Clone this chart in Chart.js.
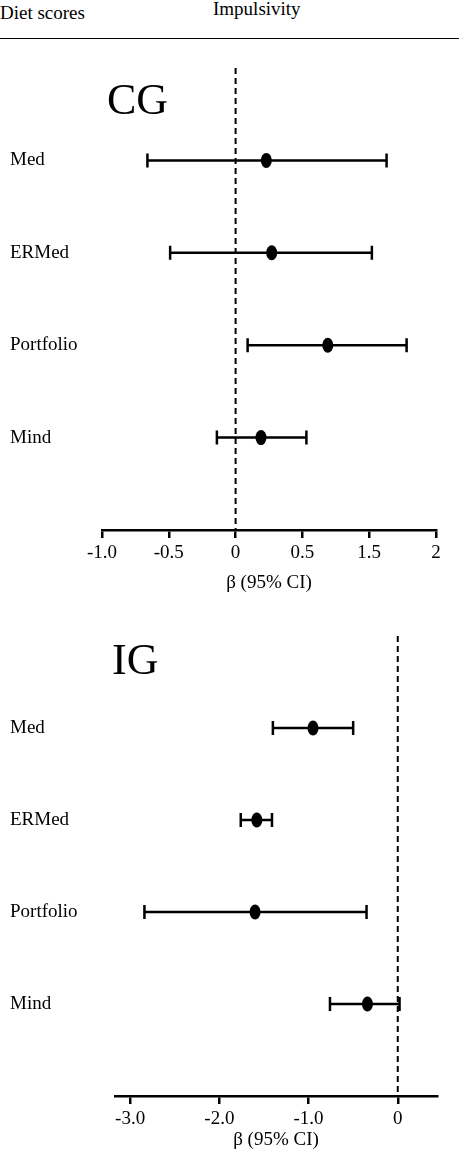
<!DOCTYPE html>
<html>
<head>
<meta charset="utf-8">
<script src="https://cdn.jsdelivr.net/npm/chart.js@4/dist/chart.umd.min.js"></script>
<style>
  body { margin: 0; width: 459px; height: 1166px; background: #fff; position: relative; overflow: hidden; font-family: "Liberation Serif", serif; }
  .txt { position: absolute; color: #000; white-space: nowrap; }
  .panel { position: absolute; left: 0; width: 459px; }
</style>
</head>
<body>
<div class="txt" style="left:0;top:2px;font-size:19px;">Diet scores</div>
<div class="txt" style="left:213px;top:-2px;font-size:19px;">Impulsivity</div>
<div style="position:absolute;left:0;top:38px;width:459px;height:1px;background:#000;"></div>

<div class="panel" style="top:40px;height:570px;"><canvas id="cgChart"></canvas></div>
<div class="panel" style="top:620px;height:546px;"><canvas id="igChart"></canvas></div>
<div class="txt" style="left:107px;top:74px;font-size:44px;">CG</div>
<div class="txt" style="left:112px;top:634px;font-size:44px;">IG</div>

<script>
//rows
const dietScores = ['Med', 'ERMed', 'Portfolio', 'Mind'];

//CG values
const cgBeta = [0.23, 0.27, 0.69, 0.19];
const cgLow = [-0.66, -0.49, 0.09, -0.14];
const cgHigh = [1.13, 1.02, 1.28, 0.53];
const cgTicks = [-1.0, -0.5, 0, 0.5, 1.0, 1.5];
const cgTickLabels = ['-1.0', '-0.5', '0', '0.5', '1.5', '2'];

//IG values
const igBeta = [-0.95, -1.58, -1.60, -0.34];
const igLow = [-1.40, -1.76, -2.84, -0.76];
const igHigh = [-0.50, -1.41, -0.35, 0.02];
const igTicks = [-3, -2, -1, 0];
const igTickLabels = ['-3.0', '-2.0', '-1.0', '0'];

/*
    error bars + dashed zero line + ellipse markers
*/
const forestPlugin = {
    id: 'forest',
    afterDatasetsDraw(chart) {
        const c = chart.ctx, x = chart.scales.x, y = chart.scales.y;
        const o = chart.options.plugins.forest;
        c.save();
        c.strokeStyle = '#000';
        c.fillStyle = '#000';
        c.lineWidth = 2;
        c.setLineDash([6, 4]);
        const x0 = x.getPixelForValue(0);
        c.beginPath();
        c.moveTo(x0, chart.chartArea.top);
        c.lineTo(x0, chart.chartArea.bottom);
        c.stroke();
        c.setLineDash([]);
        c.lineWidth = 2.5;
        for (let i = 0; i < o.low.length; i++) {
            const py = y.getPixelForValue(i + 1);
            const a = x.getPixelForValue(o.low[i]), b = x.getPixelForValue(o.high[i]);
            c.beginPath();
            c.moveTo(a, py); c.lineTo(b, py);
            c.moveTo(a, py - 7); c.lineTo(a, py + 7);
            c.moveTo(b, py - 7); c.lineTo(b, py + 7);
            c.stroke();
            c.beginPath();
            c.ellipse(x.getPixelForValue(o.beta[i]), py, 5.5, 7.5, 0, 0, Math.PI * 2);
            c.fill();
        }
        c.restore();
    }
};

function makeChart(id, beta, low, high, ticks, tickLabels, xmin, xmax, pad, xHeight) {
    const serif = { family: 'Liberation Serif', size: 19 };
    return new Chart(document.getElementById(id), {
        type: 'scatter',
        data: {
            datasets: [{
                data: beta.map((v, i) => ({ x: v, y: i + 1 })),
                pointRadius: 0,
                pointHoverRadius: 0,
            }]
        },
        options: {
            responsive: true,
            maintainAspectRatio: false,
            animation: false,
            layout: { padding: { top: pad.top, right: pad.right, left: 10, bottom: pad.bottom } },
            plugins: {
                legend: { display: false },
                tooltip: { enabled: false },
                forest: { beta: beta, low: low, high: high },
            },
            scales: {
                x: {
                    type: 'linear',
                    min: xmin,
                    max: xmax,
                    afterBuildTicks: (s) => { s.ticks = ticks.map(v => ({ value: v })); },
                    afterFit: (s) => { s.height = xHeight; },
                    ticks: {
                        color: '#000',
                        font: serif,
                        padding: 4,
                        callback: (v) => { const k = ticks.indexOf(v); return k < 0 ? '' : tickLabels[k]; },
                    },
                    grid: { drawOnChartArea: false, color: '#000', lineWidth: 2.5, tickLength: 8 },
                    border: { display: true, color: '#000', width: 2.5 },
                    title: { display: true, text: 'β (95% CI)', color: '#000', font: serif, padding: 0 },
                },
                y: {
                    type: 'linear',
                    reverse: true,
                    min: 0,
                    max: 5,
                    afterBuildTicks: (s) => { s.ticks = dietScores.map((d, i) => ({ value: i + 1 })); },
                    afterFit: (s) => { s.width = pad.left - 10; },
                    ticks: {
                        color: '#000',
                        font: serif,
                        crossAlign: 'far',
                        padding: 0,
                        callback: (v) => dietScores[v - 1] || '',
                    },
                    grid: { display: false },
                    border: { display: false },
                }
            }
        },
        plugins: [forestPlugin],
    });
}

makeChart('cgChart', cgBeta, cgLow, cgHigh, cgTicks, cgTickLabels, -1.0, 1.5,
    { top: 28, right: 23, left: 102, bottom: 16 }, 64);
makeChart('igChart', igBeta, igLow, igHigh, igTicks, igTickLabels, -3.17, 0.44,
    { top: 16, right: 22, left: 115, bottom: 15 }, 55);
</script>
</body>
</html>
